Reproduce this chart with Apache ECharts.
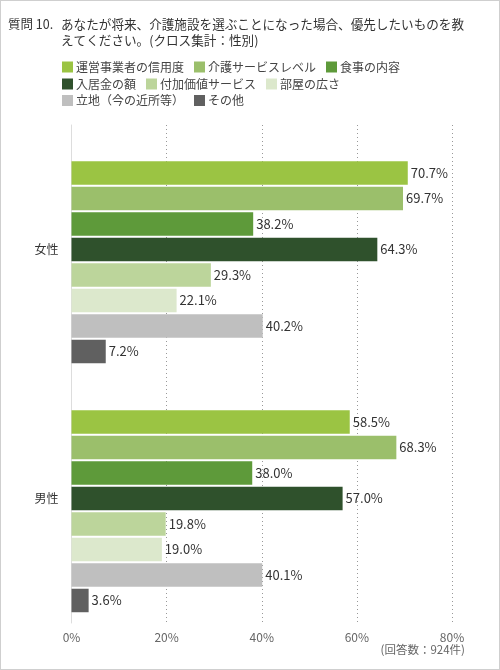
<!DOCTYPE html>
<html>
<head>
<meta charset="utf-8">
<script src="https://cdn.jsdelivr.net/npm/echarts@6/dist/echarts.min.js"></script>
<style>
  html, body { margin: 0; padding: 0; background: #fff; }
  #wrap { position: relative; width: 500px; height: 670px; }
  #chart { width: 500px; height: 670px; }
  #frame { position: absolute; left: 0; top: 0; width: 500px; height: 670px; box-sizing: border-box; border: 1px solid #cfcfcf; pointer-events: none; }
</style>
</head>
<body>
<div id="wrap"><div id="chart"></div><div id="frame"></div></div>
<script>
var categories = ['女性', '男性'];
var seriesNames = ['運営事業者の信用度', '介護サービスレベル', '食事の内容', '入居金の額', '付加価値サービス', '部屋の広さ', '立地（今の近所等）', 'その他'];
var valTrust   = [70.7, 58.5];
var valCare    = [69.7, 68.3];
var valMeal    = [38.2, 38.0];
var valFee     = [64.3, 57.0];
var valExtra   = [29.3, 19.8];
var valRoom    = [22.1, 19.0];
var valPlace   = [40.2, 40.1];
var valOther   = [7.2, 3.6];
var xTicks = ['0%', '20%', '40%', '60%', '80%'];
var colors = ['#9bc443', '#9bbf6b', '#5e9a3a', '#2f512c', '#bcd59b', '#dce8cc', '#bfbfbf', '#606060'];
var allValues = [valTrust, valCare, valMeal, valFee, valExtra, valRoom, valPlace, valOther];

var FONT = '"Noto Sans CJK JP", "Noto Sans", sans-serif';
var BW = 23.5;

var series = [{
  name: '_spacer', type: 'bar', data: [null, null], barWidth: BW, barGap: '8.5%',
  itemStyle: { color: 'transparent' }, silent: true
}];
seriesNames.forEach(function (n, i) {
  series.push({
    name: n, type: 'bar', data: allValues[i], barWidth: BW, barGap: '8.5%',
    itemStyle: { color: colors[i] },
    label: {
      show: true, position: 'right', distance: 3,
      color: '#333', fontSize: 13, fontFamily: FONT,
      formatter: function (p) { return p.value.toFixed(1) + '%'; }
    }
  });
});

var legendText = { fontSize: 12, color: '#444', fontFamily: FONT, padding: [0, 0, 0, -2] };
function mkLegend(names, top) {
  return {
    data: names, left: 62, top: top, orient: 'horizontal', padding: 0,
    itemWidth: 11, itemHeight: 11, itemGap: 10, icon: 'rect',
    selectedMode: false, textStyle: legendText
  };
}

var chart = echarts.init(document.getElementById('chart'), null, { renderer: 'canvas' });
chart.setOption({
  animation: false,
  color: colors,
  title: [
    { text: '質問 10.', left: 8, top: 16, padding: 0,
      textStyle: { fontSize: 12.5, fontWeight: 'normal', color: '#333', fontFamily: FONT, lineHeight: 16 } },
    { text: 'あなたが将来、介護施設を選ぶことになった場合、優先したいものを教\nえてください。(クロス集計：性別)', left: 61, top: 16, padding: 0,
      textStyle: { fontSize: 12.6, fontWeight: 'normal', color: '#333', fontFamily: FONT, lineHeight: 16 } }
  ],
  legend: [
    mkLegend(seriesNames.slice(0, 3), 61),
    mkLegend(seriesNames.slice(3, 6), 78),
    mkLegend(seriesNames.slice(6, 8), 94.5)
  ],
  grid: { left: 71.5, right: 48, top: 125, bottom: 47, containLabel: false },
  xAxis: {
    type: 'value', min: 0, max: 80, interval: 20,
    axisLine: { show: false }, axisTick: { show: false },
    axisLabel: {
      color: '#666', fontSize: 12, fontFamily: FONT, margin: 8,
      formatter: function (v) { return xTicks[Math.round(v / 20)]; }
    },
    splitLine: { show: true, lineStyle: { type: [1, 3], width: 1, color: ['transparent', '#999', '#999', '#999', '#999'] } }
  },
  yAxis: {
    type: 'category', data: categories, inverse: true,
    axisLine: { show: true, lineStyle: { color: '#ddd', width: 1 } },
    axisTick: { show: false },
    axisLabel: { color: '#333', fontSize: 12, fontFamily: FONT, margin: 13 }
  },
  graphic: [{
    type: 'text', right: 35, top: 644,
    style: { text: '(回答数：924件)', fontSize: 11.5, fill: '#666', fontFamily: FONT }
  }],
  series: series
});
</script>
</body>
</html>
